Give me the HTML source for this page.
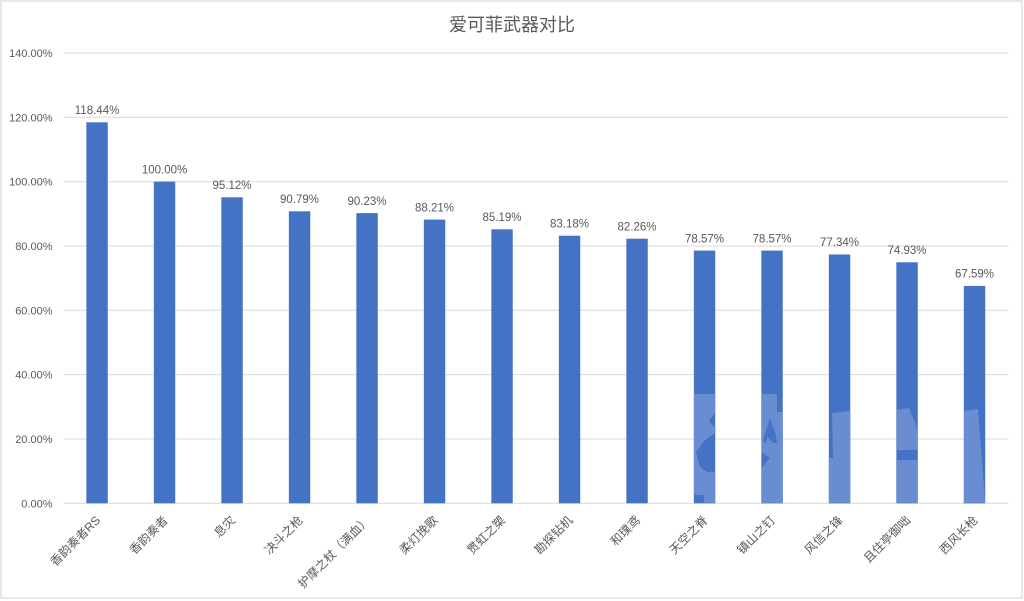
<!DOCTYPE html>
<html><head><meta charset="utf-8"><style>
html,body{margin:0;padding:0;background:#fff;}
svg{display:block;}
text{font-family:"Liberation Sans","Noto Sans CJK SC",sans-serif;fill:#595959;}
</style></head><body>
<svg width="1024" height="601" viewBox="0 0 1024 601" xmlns="http://www.w3.org/2000/svg">
<rect x="0" y="0" width="1024" height="601" fill="#fff"/>
<rect x="1" y="1" width="1021" height="597" fill="none" stroke="#d9d9d9" stroke-width="1.2"/>
<text x="512" y="31" font-size="18" text-anchor="middle" style='font-family:"Noto Sans CJK SC",sans-serif'>爱可菲武器对比</text>
<g stroke="#d9d9d9" stroke-width="1">
<line x1="63.3" y1="53" x2="1008.3" y2="53"/>
<line x1="63.3" y1="117.3" x2="1008.3" y2="117.3"/>
<line x1="63.3" y1="181.7" x2="1008.3" y2="181.7"/>
<line x1="63.3" y1="246" x2="1008.3" y2="246"/>
<line x1="63.3" y1="310.3" x2="1008.3" y2="310.3"/>
<line x1="63.3" y1="374.6" x2="1008.3" y2="374.6"/>
<line x1="63.3" y1="439" x2="1008.3" y2="439"/>
<line x1="63.3" y1="503.3" x2="1008.3" y2="503.3"/>
</g>
<g font-size="11" text-anchor="end">
<text x="52.5" y="57">140.00%</text>
<text x="52.5" y="121.3">120.00%</text>
<text x="52.5" y="185.7">100.00%</text>
<text x="52.5" y="250">80.00%</text>
<text x="52.5" y="314.3">60.00%</text>
<text x="52.5" y="378.6">40.00%</text>
<text x="52.5" y="443">20.00%</text>
<text x="52.5" y="507.3">0.00%</text>
</g>
<g fill="#4472c4">
<rect x="86.35" y="122.3" width="21.4" height="381"/>
<rect x="153.85" y="181.6" width="21.4" height="321.7"/>
<rect x="221.35" y="197.3" width="21.4" height="306"/>
<rect x="288.85" y="211.3" width="21.4" height="292"/>
<rect x="356.35" y="213.1" width="21.4" height="290.2"/>
<rect x="423.85" y="219.6" width="21.4" height="283.7"/>
<rect x="491.35" y="229.3" width="21.4" height="274"/>
<rect x="558.85" y="235.7" width="21.4" height="267.6"/>
<rect x="626.35" y="238.7" width="21.4" height="264.6"/>
<rect x="693.85" y="250.6" width="21.4" height="252.7"/>
<rect x="761.35" y="250.6" width="21.4" height="252.7"/>
<rect x="828.85" y="254.5" width="21.4" height="248.8"/>
<rect x="896.35" y="262.3" width="21.4" height="241"/>
<rect x="963.85" y="285.9" width="21.4" height="217.4"/>
</g>
<!-- watermark overlay -->
<g fill="#6a8dd1">
<path d="M693.85,394 L715.25,394 L715.25,413 L709,420 L712,425 L715.25,427 L715.25,433 L705,440 L696,452 L700,467 L707,472 L715.25,472 L715.25,503.3 L704,503.3 L704,495 L693.85,495 Z"/>
<path d="M761.35,394 L777,394 L777,412 L782.75,412 L782.75,503.3 L761.35,503.3 L761.35,468 L770,458 L761.35,452 Z M770,418 L763,440 L765,443 L768,437 L773,443 L777,443 L775,432 Z" fill-rule="evenodd"/>
<path d="M832,413 L850.25,411 L850.25,503.3 L828.85,503.3 L828.85,458 L833,458 Z"/>
<path d="M896.35,410 L909,408 L917.75,430 L917.75,450 L896.35,450 Z"/>
<path d="M896.35,460 L917.75,460 L917.75,503.3 L896.35,503.3 Z"/>
<path d="M963.85,411 L978,409 L985.25,503.3 L963.85,503.3 Z"/>
</g>
<g font-size="11.5" text-anchor="middle">
<text x="97.05" y="114">118.44%</text>
<text x="164.55" y="173.3">100.00%</text>
<text x="232.05" y="189">95.12%</text>
<text x="299.55" y="203">90.79%</text>
<text x="367.05" y="204.8">90.23%</text>
<text x="434.55" y="211.3">88.21%</text>
<text x="502.05" y="221">85.19%</text>
<text x="569.55" y="227.4">83.18%</text>
<text x="637.05" y="230.4">82.26%</text>
<text x="704.55" y="242.3">78.57%</text>
<text x="772.05" y="242.3">78.57%</text>
<text x="839.55" y="246.2">77.34%</text>
<text x="907.05" y="254">74.93%</text>
<text x="974.55" y="277.6">67.59%</text>
</g>
<g font-size="12" text-anchor="end">
<text transform="translate(101,521) rotate(-45)">香韵奏者RS</text>
<text transform="translate(168.5,521) rotate(-45)">香韵奏者</text>
<text transform="translate(236,521) rotate(-45)">息灾</text>
<text transform="translate(303.5,521) rotate(-45)">决斗之枪</text>
<text transform="translate(371,521) rotate(-45)">护摩之杖（满血）</text>
<text transform="translate(438.5,521) rotate(-45)">柔灯挽歌</text>
<text transform="translate(506,521) rotate(-45)">贯虹之槊</text>
<text transform="translate(573.5,521) rotate(-45)">勘探钻机</text>
<text transform="translate(641,521) rotate(-45)">和璞鸢</text>
<text transform="translate(708.5,521) rotate(-45)">天空之脊</text>
<text transform="translate(776,521) rotate(-45)">镇山之钉</text>
<text transform="translate(843.5,521) rotate(-45)">风信之锋</text>
<text transform="translate(911,521) rotate(-45)">且住亭御咄</text>
<text transform="translate(978.5,521) rotate(-45)">西风长枪</text>
</g>
</svg>
</body></html>
